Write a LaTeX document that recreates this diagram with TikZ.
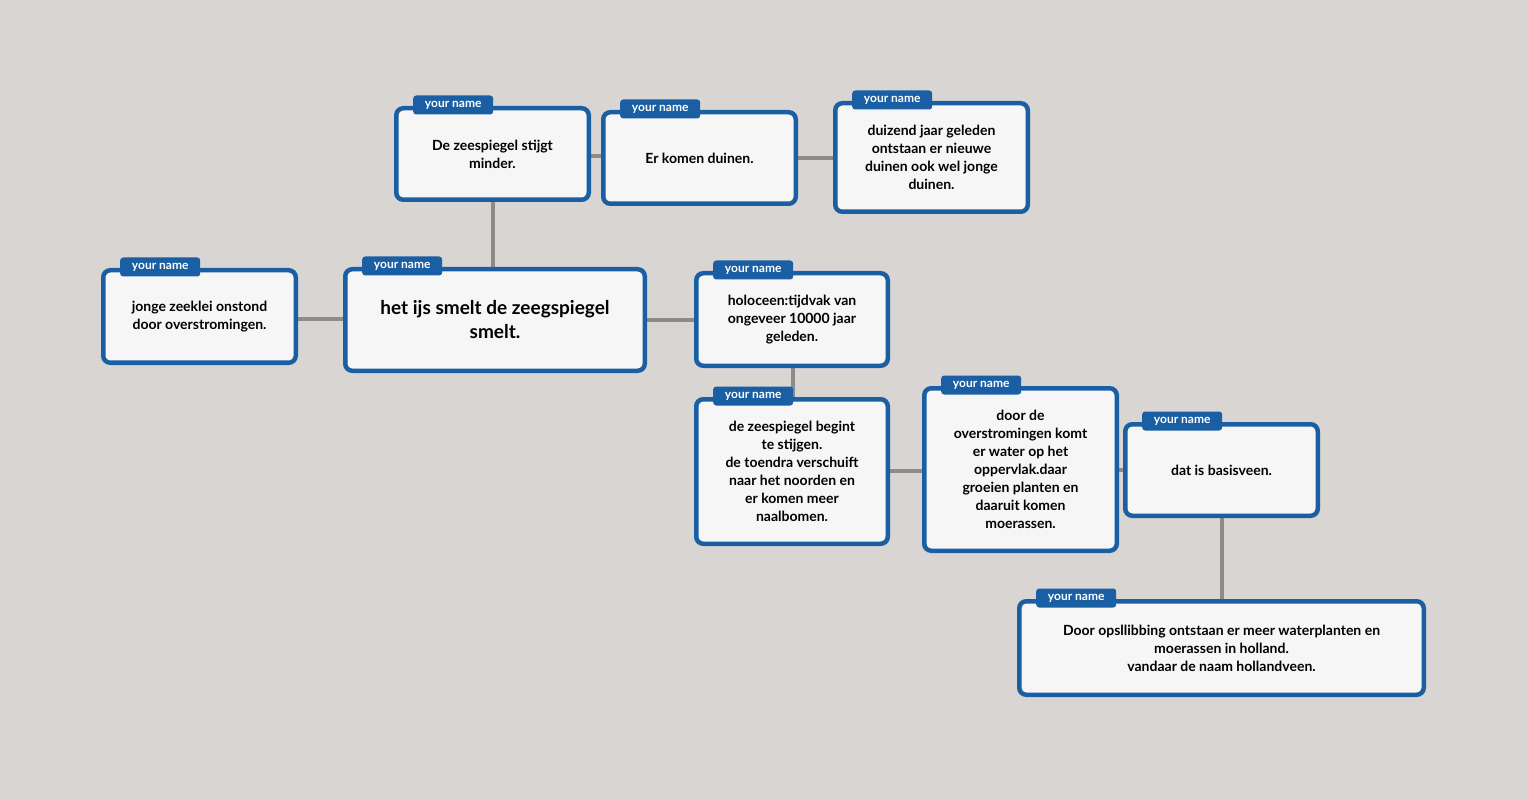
\documentclass[tikz,border=0pt]{standalone}
\usepackage{fontspec}
\setmainfont{Lato}
\usetikzlibrary{backgrounds}
\definecolor{bg}{HTML}{D9D5D2}
\definecolor{bx}{HTML}{1A5FA3}
\definecolor{fl}{HTML}{F6F6F6}
\definecolor{ln}{HTML}{8F8A85}
\tikzset{
 card/.style={draw=bx,line width=4.5pt,fill=fl,rounded corners=7pt,align=center,font=\bfseries\fontsize{14}{18}\selectfont,inner sep=0pt},
 tab/.style={fill=bx,rounded corners=3pt,text=white,font=\bfseries\fontsize{12}{12}\selectfont,minimum width=80pt,minimum height=19pt,inner sep=0pt},
 link/.style={draw=ln,line width=4pt}
}
\newcommand{\card}[6]{% name, x1,y1,x2,y2, text
 \node[card,minimum width=#4-#2-4.5pt,minimum height=#5-#3-4.5pt] (#1) at ({(#2+#4)/2},{(#3+#5)/2+2}) {#6};
 \node[tab,anchor=west] (#1t) at (#2+19,#3+1) {your name};}
\begin{document}
\begin{tikzpicture}[x=1pt,y=-1pt]
\begin{pgfonlayer}{background}
\fill[bg] (0,0) rectangle (1528,799);
\end{pgfonlayer}
\useasboundingbox (0,0) rectangle (1528,799);
\card{c}{343}{265}{647}{371}{\fontsize{19}{25}\selectfont het ijs smelt de zeegspiegel\\[6pt]\fontsize{19}{25}\selectfont smelt.}
\card{l}{101}{266}{298}{363}{jonge zeeklei onstond\\door overstromingen.}
\card{t1}{394}{104}{591}{200}{De zeespiegel stijgt\\minder.}
\card{t2}{601}{108}{798}{204}{Er komen duinen.}
\card{t3}{833}{99}{1030}{212}{duizend jaar geleden\\ontstaan er nieuwe\\duinen ook wel jonge\\duinen.}
\card{h}{694}{269}{890}{366}{holoceen:tijdvak van\\ongeveer 10000 jaar\\geleden.}
\card{z}{694}{395}{890}{544}{de zeespiegel begint\\te stijgen.\\de toendra verschuift\\naar het noorden en\\er komen meer\\naalbomen.}
\card{d}{922}{384}{1119}{551}{door de\\overstromingen komt\\er water op het\\oppervlak.daar\\groeien planten en\\daaruit komen\\moerassen.}
\card{b}{1123}{420}{1320}{516}{dat is basisveen.}
\card{o}{1017}{597}{1426}{695}{Door opsllibbing ontstaan er meer waterplanten en\\moerassen in holland.\\vandaar de naam hollandveen.}
\begin{pgfonlayer}{background}
\draw[link] (l.east |- 0,319) -- (c.west |- 0,319);
\draw[link] (t1.south -| 493,0) -- (c.north -| 493,0);
\draw[link] (t1.east |- 0,156) -- (t2.west |- 0,156);
\draw[link] (t2.east |- 0,158) -- (t3.west |- 0,158);
\draw[link] (c.east |- 0,320) -- (h.west |- 0,320);
\draw[link] (h.south -| 793,0) -- (z.north -| 793,0);
\draw[link] (z.east |- 0,471) -- (d.west |- 0,471);
\draw[link] (d.east |- 0,470) -- (b.west |- 0,470);
\draw[link] (b.south -| 1222,0) -- (o.north -| 1222,0);
\end{pgfonlayer}
\end{tikzpicture}
\end{document}
